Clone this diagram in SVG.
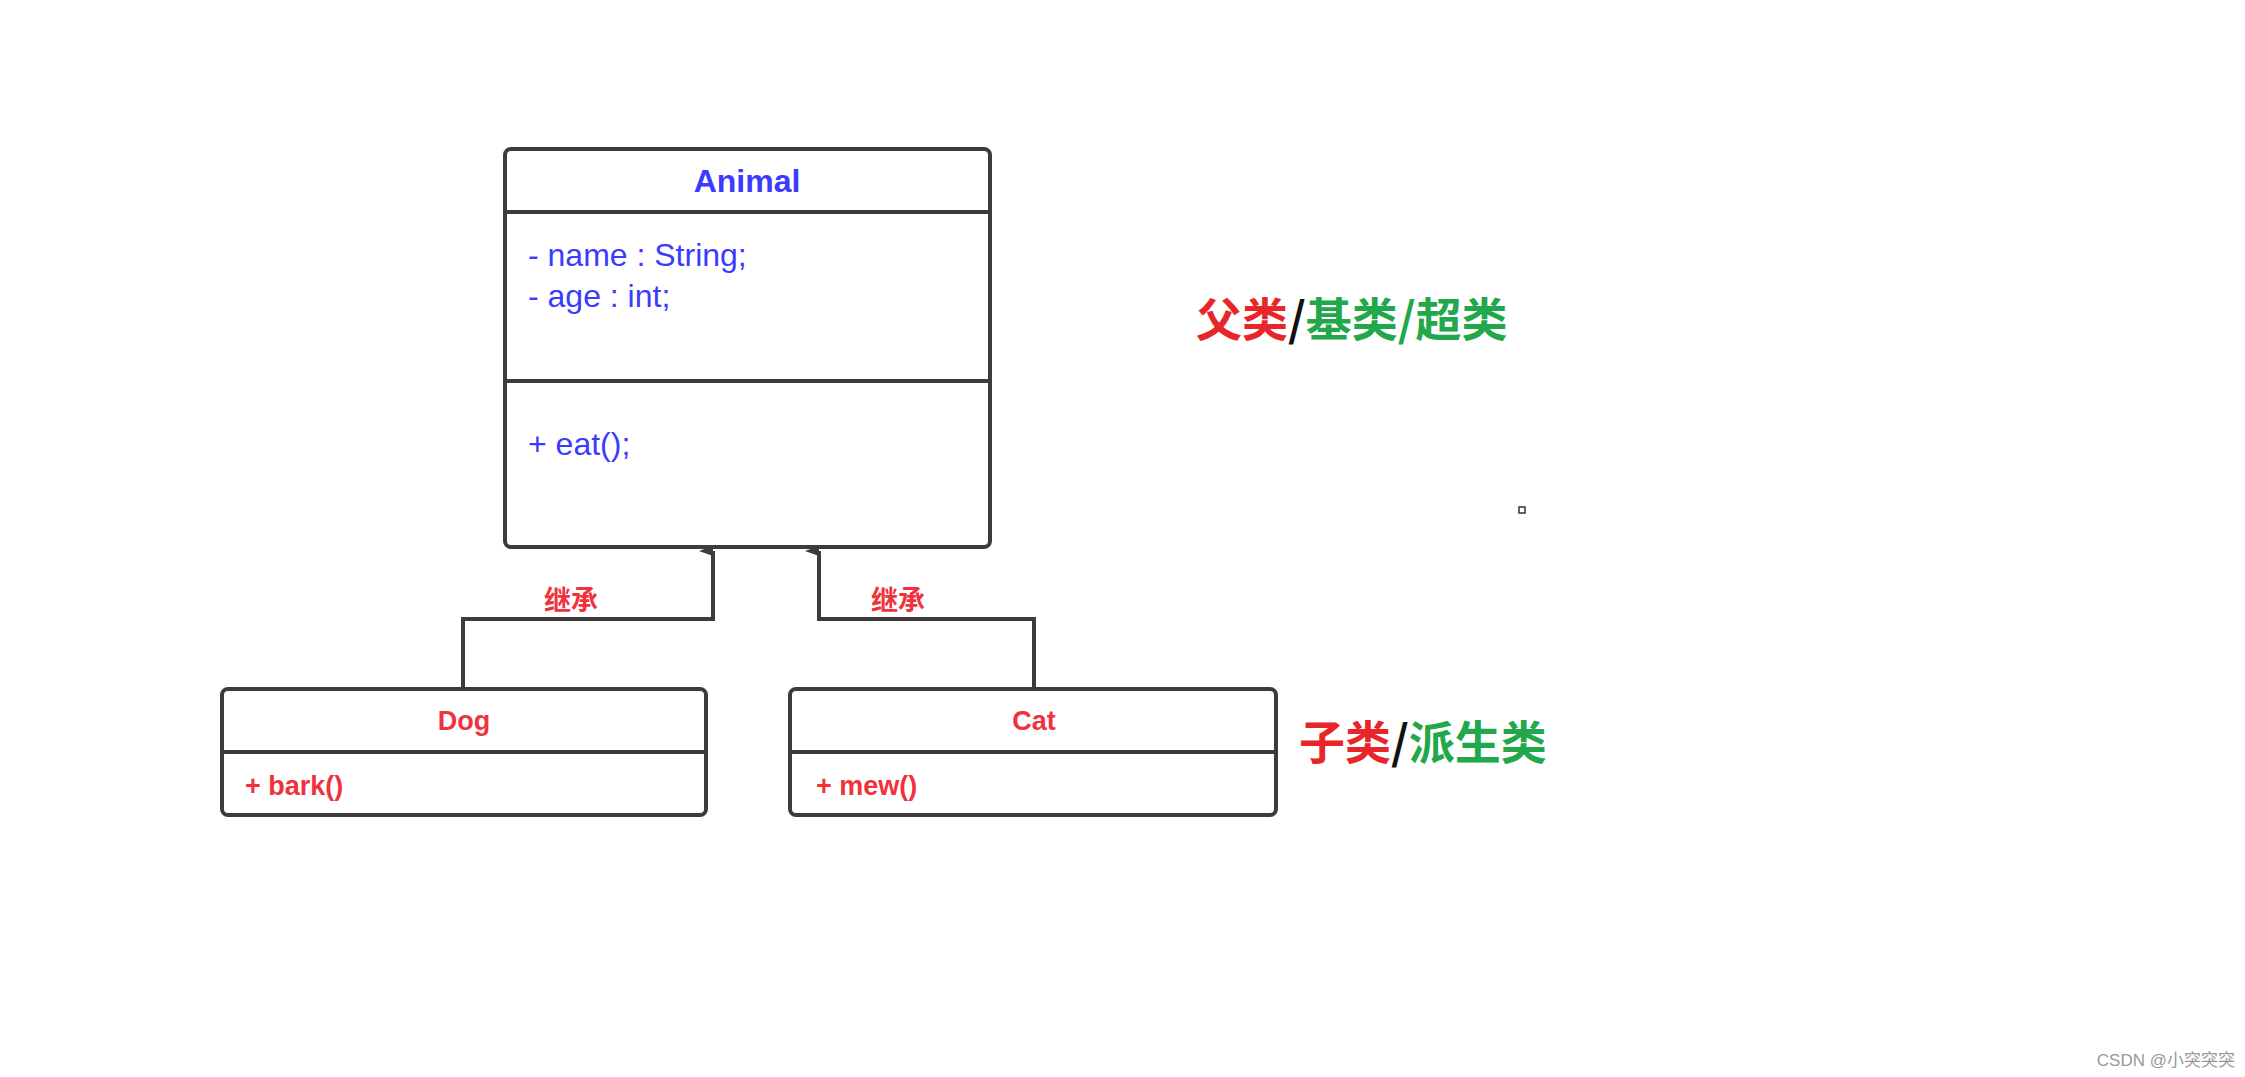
<svg xmlns="http://www.w3.org/2000/svg" width="2245" height="1077" viewBox="0 0 2245 1077">
<style>
.box{fill:#fff;stroke:#3c3c3c;stroke-width:4}
.ln{stroke:#3c3c3c;stroke-width:4;fill:none}
.blue{font-family:"Liberation Sans","Noto Sans CJK SC",sans-serif;fill:#3b3bff;font-size:32px}
.red{font-family:"Liberation Sans","Noto Sans CJK SC",sans-serif;fill:#f0323c;font-weight:bold;font-size:27px}
.big{font-family:"Noto Sans CJK SC",sans-serif;font-weight:bold;font-size:46px}
</style>
<defs><marker id="ar" markerWidth="10" markerHeight="14" refX="5" refY="14" orient="auto-start-reverse" markerUnits="userSpaceOnUse" viewBox="0 0 10 14"><path d="M0,14 L5,0 L10,14 Z" fill="#3c3c3c"/></marker></defs>
<rect width="2245" height="1077" fill="#fff"/>
<g id="animal">
<rect class="box" x="505" y="149" width="485" height="398" rx="6"/>
<line class="ln" x1="505" y1="212" x2="990" y2="212"/>
<line class="ln" x1="505" y1="381" x2="990" y2="381"/>
<text class="blue" x="747" y="192" text-anchor="middle" font-weight="bold">Animal</text>
<text class="blue" x="528" y="266">- name : String;</text>
<text class="blue" x="528" y="307">- age : int;</text>
<text class="blue" x="528" y="455">+ eat();</text>
</g>
<g id="dog">
<rect class="box" x="222" y="689" width="484" height="126" rx="6"/>
<line class="ln" x1="222" y1="752" x2="706" y2="752"/>
<text class="red" x="464" y="730" text-anchor="middle">Dog</text>
<text class="red" x="245" y="795">+ bark()</text>
</g>
<g id="cat">
<rect class="box" x="790" y="689" width="486" height="126" rx="6"/>
<line class="ln" x1="790" y1="752" x2="1276" y2="752"/>
<text class="red" x="1034" y="730" text-anchor="middle">Cat</text>
<text class="red" x="816" y="795">+ mew()</text>
</g>
<g id="connectors">
<path class="ln" d="M463,689 V619 H713 V551" marker-end="url(#ar)"/>
<path class="ln" d="M1034,689 V619 H819 V551" marker-end="url(#ar)"/>
<text class="red" x="571" y="610" text-anchor="middle" font-size="26">继承</text>
<text class="red" x="898" y="610" text-anchor="middle" font-size="26">继承</text>
</g>
<g id="labels">
<text class="big" x="1196" y="336"><tspan fill="#e8262a">父类</tspan><tspan fill="#111">/</tspan><tspan fill="#22a84a">基类/超类</tspan></text>
<text class="big" x="1299" y="759"><tspan fill="#e8262a">子类</tspan><tspan fill="#111">/</tspan><tspan fill="#22a84a">派生类</tspan></text>
<rect x="1519" y="507" width="6" height="6" fill="none" stroke="#333" stroke-width="1.5"/>
<text x="2235" y="1066" text-anchor="end" font-family="Liberation Sans,Noto Sans CJK SC,sans-serif" font-size="17" fill="#999">CSDN @小突突突</text>
</g>
</svg>
